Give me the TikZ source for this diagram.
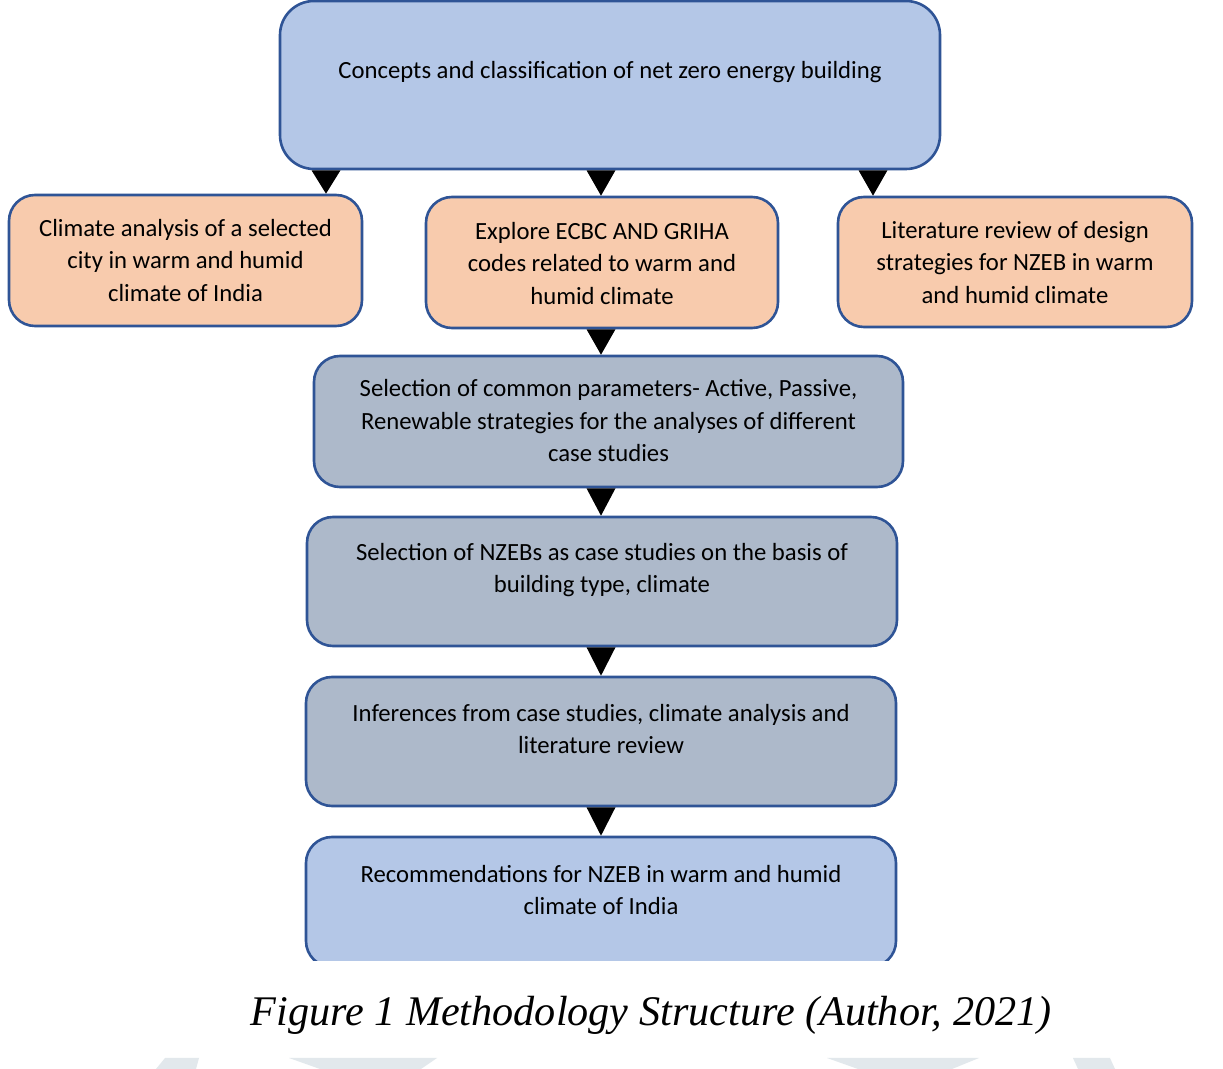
\documentclass[tikz,border=0pt]{standalone}
\usepackage{fontspec}
\setmainfont{Carlito}
\newfontfamily\capfont{Liberation Serif}
\definecolor{bxblue}{HTML}{B4C7E7}
\definecolor{bxorange}{HTML}{F8CBAD}
\definecolor{bxgray}{HTML}{ADB9CA}
\definecolor{bxline}{HTML}{2F5496}
\definecolor{wmark}{HTML}{E2E8EC}
\begin{document}
\begin{tikzpicture}[x=0.5pt,y=-0.5pt,
  box/.style={draw=bxline, line width=1.3pt, rounded corners=13pt, inner sep=0pt},
  bsize/.style 2 args={minimum width=#1*0.5pt, minimum height=#2*0.5pt},
  txt/.style={font=\fontsize{12.35pt}{16.25pt}\selectfont, align=center, inner sep=0pt, text=black},
  tri/.style={fill=black}
]
\useasboundingbox (0,0) rectangle (1223,1069);
\fill[white] (0,0) rectangle (1223,1069);

% boxes
\node[box, fill=bxblue, bsize={660}{168}, rounded corners=17pt] (top) at (610,85) {};
\node[box, fill=bxorange, bsize={353}{131}] (left) at (185.5,260.5) {};
\node[box, fill=bxorange, bsize={352}{131}] (mid) at (602,262.5) {};
\node[box, fill=bxorange, bsize={354}{130}] (right) at (1015,262) {};
\node[box, fill=bxgray, bsize={589}{131}] (g1) at (608.5,421.5) {};
\node[box, fill=bxgray, bsize={590}{129}] (g2) at (602,581.5) {};
\node[box, fill=bxgray, bsize={590}{129}] (g3) at (601,741.5) {};
\begin{scope}
  \clip (0,0) rectangle (1223,961);
  \node[box, fill=bxblue, bsize={590}{130}] (bot) at (601,902) {};
\end{scope}

% texts
\node[txt] (ttop) at (610,72) {Concepts and classification of net zero energy building};
\node[txt] (tleft) at (185.5,260.5) {Climate analysis of a selected\\city in warm and humid\\climate of India};
\node[txt] (tmid) at (602,263.5) {Explore ECBC AND GRIHA\\codes related to warm and\\humid climate};
\node[txt] (tright) at (1015,262.5) {Literature review of design\\strategies for NZEB in warm\\and humid climate};
\node[txt] (tg1) at (608.5,421) {Selection of common parameters- Active, Passive,\\Renewable strategies for the analyses of different\\case studies};
\node[txt] (tg2) at (602,570) {Selection of NZEBs as case studies on the basis of\\building type, climate};
\node[txt] (tg3) at (601,729) {Inferences from case studies, climate analysis and\\literature review};
\node[txt] (tbot) at (601,890) {Recommendations for NZEB in warm and humid\\climate of India};

% connector triangles
\coordinate (c1) at (326,0);
\coordinate (c2) at (601,0);
\coordinate (c3) at (873,0);
\fill[tri] (top.south -| c1) ++(-14.5,0) -- ++(29,0) -- (left.north -| c1) -- cycle;
\fill[tri] (top.south -| c2) ++(-14.5,0) -- ++(29,0) -- (mid.north -| c2) -- cycle;
\fill[tri] (top.south -| c3) ++(-14.5,0) -- ++(29,0) -- (right.north -| c3) -- cycle;
\fill[tri] (mid.south -| c2) ++(-14.5,0) -- ++(29,0) -- (g1.north -| c2) -- cycle;
\fill[tri] (g1.south -| c2) ++(-14.5,0) -- ++(29,0) -- (g2.north -| c2) -- cycle;
\fill[tri] (g2.south -| c2) ++(-14.5,0) -- ++(29,0) -- (g3.north -| c2) -- cycle;
\fill[tri] (g3.south -| c2) ++(-14.5,0) -- ++(29,0) -- (bot.north -| c2) -- cycle;

% caption
\node[inner sep=0pt, font=\capfont\itshape\fontsize{21.1pt}{25pt}\selectfont] (cap) at (651,1015) {Figure 1 Methodology Structure (Author, 2021)};

% faint watermark marks at the bottom
\fill[wmark] (165,1058) -- (199,1058) -- (196,1069) -- (156,1069) -- cycle;
\fill[wmark] (289,1058) -- (437,1058) -- (421,1069) -- (320,1069) -- cycle;
\fill[wmark] (827,1058) -- (979,1058) -- (952,1069) -- (858,1069) -- cycle;
\fill[wmark] (1073,1058) -- (1110,1058) -- (1115,1069) -- (1078,1069) -- cycle;
\end{tikzpicture}
\end{document}
